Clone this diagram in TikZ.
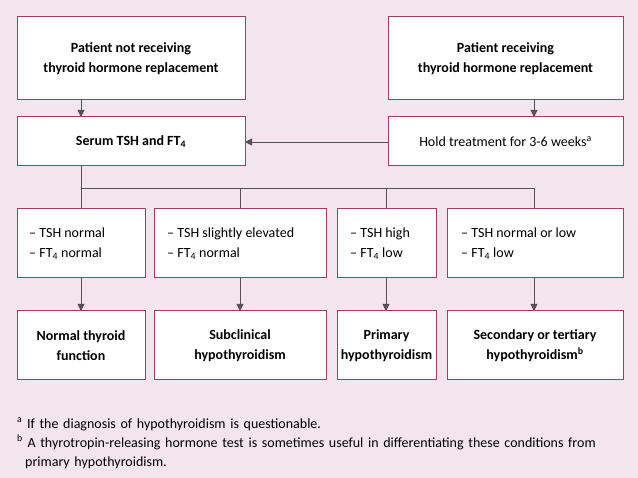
\documentclass[tikz,border=0pt]{standalone}
\usepackage{fontspec}
\setmainfont{Carlito}
\usetikzlibrary{arrows.meta}
\definecolor{bg}{HTML}{F3E5EE}
\definecolor{bd}{HTML}{9E3F68}
\definecolor{ln}{HTML}{555055}
\begin{document}
\begin{tikzpicture}[x=1pt,y=-1pt,font=\fontsize{14}{16}\selectfont,
 box/.style={draw=bd,line width=1pt,fill=white},
 txt/.style={align=center,inner sep=0pt},
 ltxt/.style={align=left,inner sep=0pt,anchor=west},
 con/.style={draw=ln,line width=0.8pt},
 two/.style={font=\fontsize{14}{20}\selectfont},
 btwo/.style={font=\fontsize{14}{20}\selectfont\bfseries},
 arr/.style={con,-{Triangle[length=7pt,width=7pt]}}]
\fill[bg] (0,0) rectangle (638,478);
\useasboundingbox (0,0) rectangle (638,478);
\newcommand\bx[5]{\draw[box] (#2,#3) rectangle (#4,#5); \coordinate (#1) at ({(#2+#4)/2},{(#3+#5)/2});}
\bx{p1}{17}{17}{245}{100}
\bx{p2}{388}{17}{623}{100}
\bx{s}{17}{117}{245}{166}
\bx{h}{388}{117}{623}{166}
\bx{a}{17}{209}{145}{278}
\bx{b}{154}{209}{326}{278}
\bx{c}{337}{209}{436}{278}
\bx{d}{447}{209}{623}{278}
\bx{e}{17}{311}{145}{380}
\bx{f}{154}{311}{326}{380}
\bx{g}{337}{311}{436}{380}
\bx{k}{447}{311}{623}{380}
\node[txt,btwo] (tp1) at (p1) {Patient not receiving\\thyroid hormone replacement};
\node[txt,btwo] (tp2) at (p2) {Patient receiving\\thyroid hormone replacement};
\node[txt,btwo] (ts) at (s) {Serum TSH and FT\textsubscript{4}};
\node[txt,two] (th) at (h) {Hold treatment for 3-6 weeks\textsuperscript{a}};
\node[ltxt,two] (ta) at (29,243.5) {– TSH normal\\– FT\textsubscript{4} normal};
\node[ltxt,two] (tb) at (167,243.5) {– TSH slightly elevated\\– FT\textsubscript{4} normal};
\node[ltxt,two] (tc) at (350,243.5) {– TSH high\\– FT\textsubscript{4} low};
\node[ltxt,two] (td) at (461,243.5) {– TSH normal or low\\– FT\textsubscript{4} low};
\node[txt,btwo] (te) at (e) {Normal thyroid\\function};
\node[txt,btwo] (tf) at (f) {Subclinical\\hypothyroidism};
\node[txt,btwo] (tg) at (g) {Primary\\hypothyroidism};
\node[txt,btwo] (tk) at (k) {Secondary or tertiary\\hypothyroidism\textsuperscript{b}};
\coordinate (p1b) at (81,100); \coordinate (sT) at (81,117);
\coordinate (p2b) at (534,100); \coordinate (hT) at (534,117);
\draw[arr] (p1b) -- (sT);
\draw[arr] (p2b) -- (hT);
\coordinate (hL) at (388,142); \coordinate (sR) at (245,142);
\draw[arr] (hL) -- (sR);
\coordinate (sB) at (81,166); \coordinate (j1) at (81,188); \coordinate (j4) at (534,188);
\draw[con] (sB) -- (j1) -- (j4);
\foreach \xx/\n in {81/a,240/b,386/c,534/d}{\coordinate (top\n) at (\xx,209); \draw[con] (\xx,188) -- (top\n);}
\foreach \xx/\n in {81/1,240/2,386/3,534/4}{\coordinate (u\n) at (\xx,278); \coordinate (v\n) at (\xx,311); \draw[arr] (u\n) -- (v\n);}
\node[ltxt,anchor=north west,font=\fontsize{14}{19}\selectfont,text width=620pt] (fn) at (17,418) {\textsuperscript{a} If the diagnosis of hypothyroidism is questionable.\\\textsuperscript{b} A thyrotropin-releasing hormone test is sometimes useful in differentiating these conditions from\\\hspace*{8pt}primary hypothyroidism.};
\end{tikzpicture}
\end{document}
